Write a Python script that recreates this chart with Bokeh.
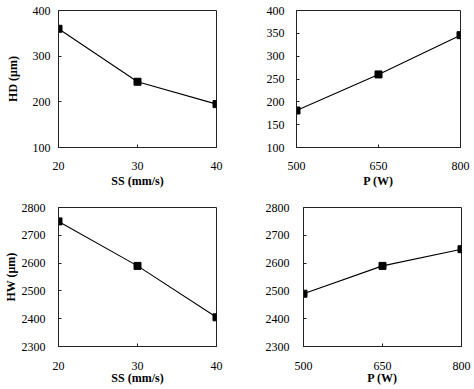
from bokeh.plotting import figure
from bokeh.layouts import column, row
from bokeh.models import FixedTicker, Range1d
from bokeh.embed import file_html
from bokeh.resources import INLINE

# Data
ss = [20, 30, 40]
power = [500, 650, 800]
hd_vs_ss = [360, 244, 195]
hd_vs_p = [181, 260, 346]
hw_vs_ss = [2750, 2590, 2405]
hw_vs_p = [2490, 2590, 2650]

ss_ticks = [20, 30, 40]
p_ticks = [500, 650, 800]
hd_ticks_l = [100, 200, 300, 400]
hd_ticks_r = [100, 150, 200, 250, 300, 350, 400]
hw_ticks = [2300, 2400, 2500, 2600, 2700, 2800]

FONT = "Liberation Serif"


def panel(x, y, xticks, yticks, xlabel, ylabel, width, height,
          bl, br, bt, bb, ystand, ylab_stand, xstand, xlab_stand):
    p = figure(width=width, height=height, output_backend="svg",
               toolbar_location=None,
               x_range=Range1d(xticks[0], xticks[-1]),
               y_range=Range1d(yticks[0], yticks[-1]),
               min_border_left=bl, min_border_right=br,
               min_border_top=bt, min_border_bottom=bb)
    p.line(x, y, line_color="black", line_width=1.1)
    p.scatter(x, y, marker="square", size=7, fill_color="black",
              line_color="black")
    p.grid.visible = False
    p.outline_line_color = "#222222"
    p.outline_line_width = 1
    p.background_fill_color = "white"
    p.border_fill_color = "white"

    p.xaxis.ticker = FixedTicker(ticks=xticks)
    p.yaxis.ticker = FixedTicker(ticks=yticks)
    for ax in (p.xaxis[0], p.yaxis[0]):
        ax.axis_line_color = "#222222"
        ax.major_tick_in = 3
        ax.major_tick_out = 0
        ax.minor_tick_line_color = None
        ax.major_tick_line_color = "#222222"
        ax.major_label_text_font = FONT
        ax.major_label_text_font_size = "12px"
        ax.major_label_text_color = "black"
        ax.axis_label_text_font = FONT
        ax.axis_label_text_font_size = "12px"
        ax.axis_label_text_font_style = "bold"
        ax.axis_label_text_color = "black"
    p.xaxis.axis_label = xlabel
    p.xaxis.major_label_standoff = xstand
    p.xaxis.axis_label_standoff = xlab_stand
    p.yaxis.major_label_standoff = ystand
    if ylabel:
        p.yaxis.axis_label = ylabel
        p.yaxis.axis_label_standoff = ylab_stand
    return p


p1 = panel(ss, hd_vs_ss, ss_ticks, hd_ticks_l, "SS (mm/s)", "HD (μm)",
           236, 193, 58, 20, 10, 46, 8, 10, 14, 1)
p2 = panel(power, hd_vs_p, p_ticks, hd_ticks_r, "P (W)", None,
           238, 193, 60, 14, 10, 46, 12, 0, 14, 1)
p3 = panel(ss, hw_vs_ss, ss_ticks, hw_ticks, "SS (mm/s)", "HW (μm)",
           236, 196, 58, 20, 14, 43, 13, 1, 15, -2)
p4 = panel(power, hw_vs_p, p_ticks, hw_ticks, "P (W)", None,
           238, 196, 67, 13, 14, 43, 14, 0, 15, -2)

layout = column(row(p1, p2), row(p3, p4))

open("out.html", "w").write(file_html(layout, INLINE))
